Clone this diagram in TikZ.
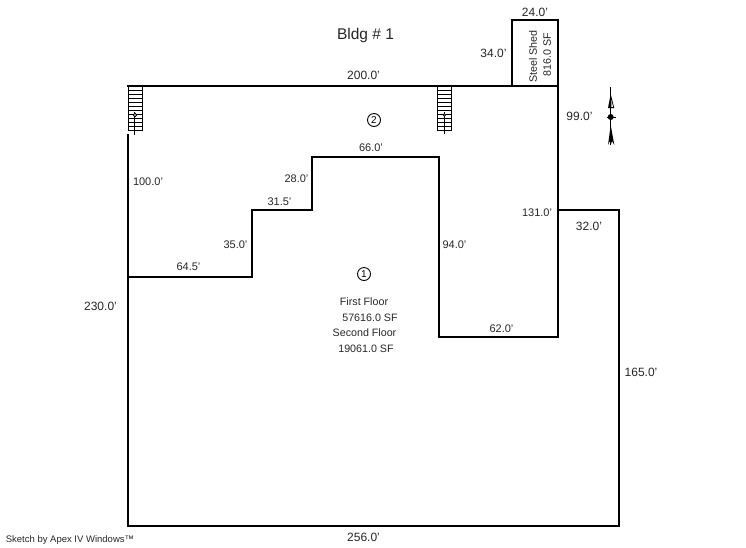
\documentclass[tikz,border=0pt]{standalone}
\usepackage{fontspec}
\setmainfont{Liberation Sans}
\begin{document}
\begin{tikzpicture}[x=1pt,y=-1pt,
  wall/.style={line width=2.2pt,black,line join=miter,line cap=rect},
  thin wall/.style={line width=1pt,black},
  dim/.style={inner sep=0pt,font=\fontsize{12}{14}\selectfont,text=black!85},
  small dim/.style={inner sep=0pt,font=\fontsize{11}{13}\selectfont,text=black!85},
  area/.style={inner sep=0pt,font=\fontsize{10.7}{12}\selectfont,text=black!85},
  marker/.style={circle,draw=black,line width=0.9pt,minimum size=13pt,inner sep=0pt,font=\fontsize{10}{10}\selectfont}]
\useasboundingbox (0,0) rectangle (746,547);
% outline
\draw[wall] (128,135) -- (128,526) -- (619,526) -- (619,210) -- (558,210) -- (558,337) -- (439,337) -- (439,157) -- (312,157) -- (312,210) -- (252,210) -- (252,277) -- (128,277);
\draw[wall] (128,86) -- (558,86) -- (558,210);
\draw[wall] (512,86) -- (512,20) -- (558,20) -- (558,86);
% stairs
\foreach \sx in {128,437}{
  \draw[thin wall] (\sx,86) rectangle ({\sx+14.5},130.5);
  \foreach \ry in {90,94,...,130}{\draw[thin wall] (\sx,\ry) -- ({\sx+14.5},\ry);}
}
\draw[thin wall] (134.5,112) -- (134.5,135);
\draw[thin wall] (444.3,112) -- (444.3,134);
\draw[line width=0.8pt,fill=white] (135,115) circle (1.7);
\draw[line width=0.7pt,fill=white] (444.3,115) circle (1.2);
% north arrow
\draw[line width=1.2pt] (610.7,87) -- (610.7,145);
\fill (610.7,94) -- (614.2,108) -- (608,108) -- cycle;
\fill[white] (611.4,100) -- (613,106.8) -- (611.4,106.8) -- cycle;
\fill (610.7,117) circle (3);
\draw[line width=1pt] (606.5,117) -- (615.5,117);
\fill (610.7,125) -- (614.3,145) -- (612,141) -- (610.7,145) -- (609.5,141) -- (608,145) -- cycle;
% title
\node[inner sep=0pt,font=\fontsize{15.5}{17}\selectfont,text=black!85] (title) at (365.5,35) {Bldg \# 1};
% markers
\node[marker] (m1) at (364,274) {1};
\node[marker] (m2) at (374,120) {2};
% dimensions
\node[dim] (d24) at (535,12) {24.0'};
\node[dim] (d34) at (493.5,53) {34.0'};
\node[dim] (d200) at (363.5,75) {200.0'};
\node[dim] (d99) at (579.5,116) {99.0'};
\node[small dim] (d66) at (371,148) {66.0'};
\node[small dim] (d100) at (148,182) {100.0'};
\node[small dim] (d28) at (296.5,179) {28.0'};
\node[small dim] (d315) at (279.5,202) {31.5'};
\node[small dim] (d35) at (235.5,245) {35.0'};
\node[small dim] (d645) at (188.5,267) {64.5'};
\node[small dim] (d131) at (537,213) {131.0'};
\node[dim] (d32) at (589,226) {32.0'};
\node[small dim] (d94) at (454.5,245) {94.0'};
\node[small dim] (d62) at (501.5,329) {62.0'};
\node[dim] (d230) at (100.5,306) {230.0'};
\node[dim] (d165) at (641,372) {165.0'};
\node[dim] (d256) at (363.5,537) {256.0'};
% areas
\node[area] (a1) at (364,302) {First Floor};
\node[area] (a2) at (370,318) {57616.0 SF};
\node[area] (a3) at (364.5,333) {Second Floor};
\node[area] (a4) at (366,349) {19061.0 SF};
\node[area,rotate=90] (s1) at (533,56.5) {Steel Shed};
\node[area,rotate=90] (s2) at (547.3,54.5) {816.0 SF};
\node[inner sep=0pt,font=\fontsize{9.5}{11}\selectfont,text=black!85] (credit) at (70,540.5) {Sketch by Apex IV Windows™};
\end{tikzpicture}
\end{document}
